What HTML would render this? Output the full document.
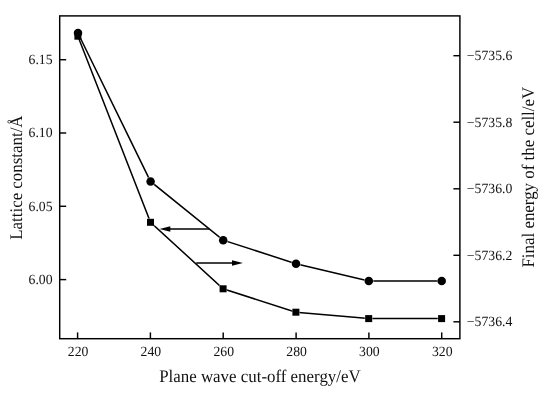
<!DOCTYPE html>
<html><head><meta charset="utf-8"><title>chart</title>
<style>html,body{margin:0;padding:0;background:#fff}svg{display:block}text{text-rendering:geometricPrecision;font-family:"Liberation Serif","Times New Roman",serif;fill:#111}</style></head><body>
<svg width="550" height="397" viewBox="0 0 550 397">
<rect width="550" height="397" fill="#fff"/>
<g stroke="#000" stroke-width="1.45" fill="none" stroke-linecap="butt">
<rect x="59.7" y="15.9" width="400.2" height="322.8"/>
<line x1="77.6" y1="338.7" x2="77.6" y2="332.4"/>
<line x1="150.4" y1="338.7" x2="150.4" y2="332.4"/>
<line x1="223.2" y1="338.7" x2="223.2" y2="332.4"/>
<line x1="296.1" y1="338.7" x2="296.1" y2="332.4"/>
<line x1="368.9" y1="338.7" x2="368.9" y2="332.4"/>
<line x1="441.7" y1="338.7" x2="441.7" y2="332.4"/>
<line x1="59.7" y1="59.7" x2="66.2" y2="59.7"/>
<line x1="59.7" y1="133.0" x2="66.2" y2="133.0"/>
<line x1="59.7" y1="206.3" x2="66.2" y2="206.3"/>
<line x1="59.7" y1="279.6" x2="66.2" y2="279.6"/>
<line x1="459.9" y1="55.7" x2="453.4" y2="55.7"/>
<line x1="459.9" y1="122.2" x2="453.4" y2="122.2"/>
<line x1="459.9" y1="188.8" x2="453.4" y2="188.8"/>
<line x1="459.9" y1="255.3" x2="453.4" y2="255.3"/>
<line x1="459.9" y1="321.8" x2="453.4" y2="321.8"/>
</g>
<polyline points="77.9,33.0 150.5,181.4 223.1,240.1 295.9,263.7 368.7,281.0 441.6,281.0" fill="none" stroke="#000" stroke-width="1.5"/>
<polyline points="77.9,36.2 150.5,222.3 223.1,288.8 295.9,312.2 368.7,318.6 441.6,318.6" fill="none" stroke="#000" stroke-width="1.5"/>
<circle cx="150.60" cy="181.50" r="4.9" fill="#fff" fill-opacity="0.55"/>
<circle cx="223.20" cy="240.20" r="4.9" fill="#fff" fill-opacity="0.55"/>
<circle cx="296.00" cy="263.80" r="4.9" fill="#fff" fill-opacity="0.55"/>
<circle cx="368.80" cy="281.10" r="4.9" fill="#fff" fill-opacity="0.55"/>
<circle cx="441.70" cy="281.10" r="4.9" fill="#fff" fill-opacity="0.55"/>
<rect x="146.40" y="218.20" width="8.2" height="8.2" fill="#fff" fill-opacity="0.55"/>
<rect x="219.00" y="284.70" width="8.2" height="8.2" fill="#fff" fill-opacity="0.55"/>
<rect x="291.80" y="308.10" width="8.2" height="8.2" fill="#fff" fill-opacity="0.55"/>
<rect x="364.60" y="314.50" width="8.2" height="8.2" fill="#fff" fill-opacity="0.55"/>
<rect x="437.50" y="314.50" width="8.2" height="8.2" fill="#fff" fill-opacity="0.55"/>
<circle cx="78.00" cy="33.10" r="4.25" fill="#000"/>
<circle cx="150.60" cy="181.50" r="4.25" fill="#000"/>
<circle cx="223.20" cy="240.20" r="4.25" fill="#000"/>
<circle cx="296.00" cy="263.80" r="4.25" fill="#000"/>
<circle cx="368.80" cy="281.10" r="4.25" fill="#000"/>
<circle cx="441.70" cy="281.10" r="4.25" fill="#000"/>
<rect x="74.4" y="32.7" width="7" height="7" fill="#000"/>
<rect x="147.0" y="218.8" width="7" height="7" fill="#000"/>
<rect x="219.6" y="285.3" width="7" height="7" fill="#000"/>
<rect x="292.4" y="308.7" width="7" height="7" fill="#000"/>
<rect x="365.2" y="315.1" width="7" height="7" fill="#000"/>
<rect x="438.1" y="315.1" width="7" height="7" fill="#000"/>
<g stroke="#000" stroke-width="1.6" fill="#000">
<line x1="209.4" y1="229" x2="168" y2="229"/><polygon stroke="none" points="159.5,229 170.3,226.25 170.3,231.75"/>
<line x1="196.2" y1="263" x2="234" y2="263"/><polygon stroke="none" points="242.9,263 232,260.2 232,265.8"/>
</g>
<g font-size="14.1px">
<text transform="translate(78.1,355.7) scale(0.975,1)" text-anchor="middle">220</text>
<text transform="translate(150.9,355.7) scale(0.975,1)" text-anchor="middle">240</text>
<text transform="translate(223.7,355.7) scale(0.975,1)" text-anchor="middle">260</text>
<text transform="translate(296.6,355.7) scale(0.975,1)" text-anchor="middle">280</text>
<text transform="translate(369.4,355.7) scale(0.975,1)" text-anchor="middle">300</text>
<text transform="translate(442.2,355.7) scale(0.975,1)" text-anchor="middle">320</text>
<text transform="translate(52.6,64.0) scale(0.975,1)" text-anchor="end">6.15</text>
<text transform="translate(52.6,137.3) scale(0.975,1)" text-anchor="end">6.10</text>
<text transform="translate(52.6,210.6) scale(0.975,1)" text-anchor="end">6.05</text>
<text transform="translate(52.6,283.9) scale(0.975,1)" text-anchor="end">6.00</text>
<text transform="translate(466.8,60.1) scale(0.975,1)" text-anchor="start">−5735.6</text>
<text transform="translate(466.8,126.6) scale(0.975,1)" text-anchor="start">−5735.8</text>
<text transform="translate(466.8,193.2) scale(0.975,1)" text-anchor="start">−5736.0</text>
<text transform="translate(466.8,259.7) scale(0.975,1)" text-anchor="start">−5736.2</text>
<text transform="translate(466.8,326.2) scale(0.975,1)" text-anchor="start">−5736.4</text>
</g>
<g font-size="17.7px">
<text transform="translate(259.9,382.4) scale(0.955,1)" text-anchor="middle">Plane wave cut-off energy/eV</text>
<text transform="translate(22.2,177.6) rotate(-90) scale(0.955,1)" text-anchor="middle">Lattice constant/Å</text>
<text transform="translate(534.3,177.2) rotate(-90) scale(0.955,1)" text-anchor="middle">Final energy of the cell/eV</text>
</g>
</svg></body></html>
